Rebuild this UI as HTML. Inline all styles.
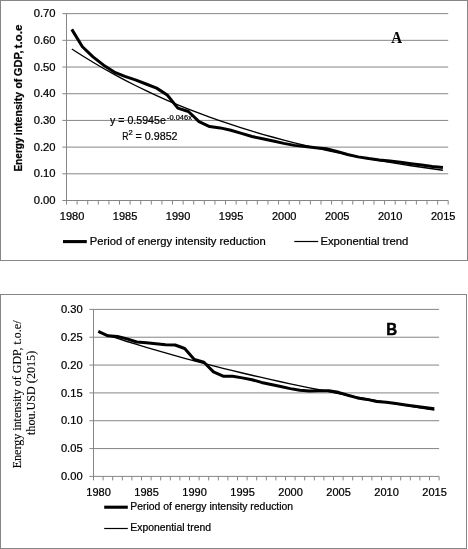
<!DOCTYPE html>
<html><head><meta charset="utf-8"><title>Energy intensity of GDP</title>
<style>html,body{margin:0;padding:0;background:#fff}svg{display:block}text{font-family:"Liberation Sans",sans-serif;fill:#000;stroke:#000;stroke-width:.22px}.s{font-family:"Liberation Serif",serif;stroke-width:.1px}</style></head><body>
<svg width="468" height="549" viewBox="0 0 468 549">
<rect width="468" height="549" fill="#fff"/>
<g>
<rect x="0.5" y="0.5" width="467" height="260" fill="#fff" stroke="#868686" stroke-width="1"/>
<line x1="62.4" y1="200.50" x2="448.20" y2="200.50" stroke="#868686" stroke-width="1"/>
<line x1="62.4" y1="173.81" x2="448.20" y2="173.81" stroke="#868686" stroke-width="1"/>
<line x1="62.4" y1="147.11" x2="448.20" y2="147.11" stroke="#868686" stroke-width="1"/>
<line x1="62.4" y1="120.42" x2="448.20" y2="120.42" stroke="#868686" stroke-width="1"/>
<line x1="62.4" y1="93.73" x2="448.20" y2="93.73" stroke="#868686" stroke-width="1"/>
<line x1="62.4" y1="67.04" x2="448.20" y2="67.04" stroke="#868686" stroke-width="1"/>
<line x1="62.4" y1="40.34" x2="448.20" y2="40.34" stroke="#868686" stroke-width="1"/>
<line x1="62.4" y1="13.65" x2="448.20" y2="13.65" stroke="#868686" stroke-width="1"/>
<line x1="66.5" y1="13.65" x2="66.5" y2="204.6" stroke="#868686" stroke-width="1"/>
<line x1="77.10" y1="200.5" x2="77.10" y2="204.6" stroke="#868686" stroke-width="1"/>
<line x1="87.71" y1="200.5" x2="87.71" y2="204.6" stroke="#868686" stroke-width="1"/>
<line x1="98.31" y1="200.5" x2="98.31" y2="204.6" stroke="#868686" stroke-width="1"/>
<line x1="108.91" y1="200.5" x2="108.91" y2="204.6" stroke="#868686" stroke-width="1"/>
<line x1="119.51" y1="200.5" x2="119.51" y2="204.6" stroke="#868686" stroke-width="1"/>
<line x1="130.12" y1="200.5" x2="130.12" y2="204.6" stroke="#868686" stroke-width="1"/>
<line x1="140.72" y1="200.5" x2="140.72" y2="204.6" stroke="#868686" stroke-width="1"/>
<line x1="151.32" y1="200.5" x2="151.32" y2="204.6" stroke="#868686" stroke-width="1"/>
<line x1="161.93" y1="200.5" x2="161.93" y2="204.6" stroke="#868686" stroke-width="1"/>
<line x1="172.53" y1="200.5" x2="172.53" y2="204.6" stroke="#868686" stroke-width="1"/>
<line x1="183.13" y1="200.5" x2="183.13" y2="204.6" stroke="#868686" stroke-width="1"/>
<line x1="193.73" y1="200.5" x2="193.73" y2="204.6" stroke="#868686" stroke-width="1"/>
<line x1="204.34" y1="200.5" x2="204.34" y2="204.6" stroke="#868686" stroke-width="1"/>
<line x1="214.94" y1="200.5" x2="214.94" y2="204.6" stroke="#868686" stroke-width="1"/>
<line x1="225.54" y1="200.5" x2="225.54" y2="204.6" stroke="#868686" stroke-width="1"/>
<line x1="236.14" y1="200.5" x2="236.14" y2="204.6" stroke="#868686" stroke-width="1"/>
<line x1="246.75" y1="200.5" x2="246.75" y2="204.6" stroke="#868686" stroke-width="1"/>
<line x1="257.35" y1="200.5" x2="257.35" y2="204.6" stroke="#868686" stroke-width="1"/>
<line x1="267.95" y1="200.5" x2="267.95" y2="204.6" stroke="#868686" stroke-width="1"/>
<line x1="278.56" y1="200.5" x2="278.56" y2="204.6" stroke="#868686" stroke-width="1"/>
<line x1="289.16" y1="200.5" x2="289.16" y2="204.6" stroke="#868686" stroke-width="1"/>
<line x1="299.76" y1="200.5" x2="299.76" y2="204.6" stroke="#868686" stroke-width="1"/>
<line x1="310.36" y1="200.5" x2="310.36" y2="204.6" stroke="#868686" stroke-width="1"/>
<line x1="320.97" y1="200.5" x2="320.97" y2="204.6" stroke="#868686" stroke-width="1"/>
<line x1="331.57" y1="200.5" x2="331.57" y2="204.6" stroke="#868686" stroke-width="1"/>
<line x1="342.17" y1="200.5" x2="342.17" y2="204.6" stroke="#868686" stroke-width="1"/>
<line x1="352.77" y1="200.5" x2="352.77" y2="204.6" stroke="#868686" stroke-width="1"/>
<line x1="363.38" y1="200.5" x2="363.38" y2="204.6" stroke="#868686" stroke-width="1"/>
<line x1="373.98" y1="200.5" x2="373.98" y2="204.6" stroke="#868686" stroke-width="1"/>
<line x1="384.58" y1="200.5" x2="384.58" y2="204.6" stroke="#868686" stroke-width="1"/>
<line x1="395.19" y1="200.5" x2="395.19" y2="204.6" stroke="#868686" stroke-width="1"/>
<line x1="405.79" y1="200.5" x2="405.79" y2="204.6" stroke="#868686" stroke-width="1"/>
<line x1="416.39" y1="200.5" x2="416.39" y2="204.6" stroke="#868686" stroke-width="1"/>
<line x1="426.99" y1="200.5" x2="426.99" y2="204.6" stroke="#868686" stroke-width="1"/>
<line x1="437.60" y1="200.5" x2="437.60" y2="204.6" stroke="#868686" stroke-width="1"/>
<line x1="448.20" y1="200.5" x2="448.20" y2="204.6" stroke="#868686" stroke-width="1"/>
<text x="55.60" y="204.00" font-size="10.1" text-anchor="end" textLength="21.90" lengthAdjust="spacingAndGlyphs">0.00</text>
<text x="55.60" y="177.31" font-size="10.1" text-anchor="end" textLength="21.90" lengthAdjust="spacingAndGlyphs">0.10</text>
<text x="55.60" y="150.61" font-size="10.1" text-anchor="end" textLength="21.90" lengthAdjust="spacingAndGlyphs">0.20</text>
<text x="55.60" y="123.92" font-size="10.1" text-anchor="end" textLength="21.90" lengthAdjust="spacingAndGlyphs">0.30</text>
<text x="55.60" y="97.23" font-size="10.1" text-anchor="end" textLength="21.90" lengthAdjust="spacingAndGlyphs">0.40</text>
<text x="55.60" y="70.54" font-size="10.1" text-anchor="end" textLength="21.90" lengthAdjust="spacingAndGlyphs">0.50</text>
<text x="55.60" y="43.84" font-size="10.1" text-anchor="end" textLength="21.90" lengthAdjust="spacingAndGlyphs">0.60</text>
<text x="55.60" y="17.15" font-size="10.1" text-anchor="end" textLength="21.90" lengthAdjust="spacingAndGlyphs">0.70</text>
<text x="72.10" y="219.80" font-size="10.0" text-anchor="middle" textLength="24.50" lengthAdjust="spacingAndGlyphs">1980</text>
<text x="125.12" y="219.80" font-size="10.0" text-anchor="middle" textLength="24.50" lengthAdjust="spacingAndGlyphs">1985</text>
<text x="178.13" y="219.80" font-size="10.0" text-anchor="middle" textLength="24.50" lengthAdjust="spacingAndGlyphs">1990</text>
<text x="231.14" y="219.80" font-size="10.0" text-anchor="middle" textLength="24.50" lengthAdjust="spacingAndGlyphs">1995</text>
<text x="284.16" y="219.80" font-size="10.0" text-anchor="middle" textLength="24.50" lengthAdjust="spacingAndGlyphs">2000</text>
<text x="337.17" y="219.80" font-size="10.0" text-anchor="middle" textLength="24.50" lengthAdjust="spacingAndGlyphs">2005</text>
<text x="390.18" y="219.80" font-size="10.0" text-anchor="middle" textLength="24.50" lengthAdjust="spacingAndGlyphs">2010</text>
<text x="443.20" y="219.80" font-size="10.0" text-anchor="middle" textLength="24.50" lengthAdjust="spacingAndGlyphs">2015</text>
<text x="21.60" y="171.60" font-size="10.6" textLength="34.20" lengthAdjust="spacingAndGlyphs" font-weight="bold" transform="rotate(-90 21.60 171.60)">Energy</text>
<text x="21.60" y="135.30" font-size="10.6" textLength="43.40" lengthAdjust="spacingAndGlyphs" font-weight="bold" transform="rotate(-90 21.60 135.30)">intensity</text>
<text x="21.60" y="88.50" font-size="10.6" textLength="9.70" lengthAdjust="spacingAndGlyphs" font-weight="bold" transform="rotate(-90 21.60 88.50)">of</text>
<text x="21.60" y="76.20" font-size="10.6" textLength="25.80" lengthAdjust="spacingAndGlyphs" font-weight="bold" transform="rotate(-90 21.60 76.20)">GDP,</text>
<text x="21.60" y="48.50" font-size="10.6" textLength="24.00" lengthAdjust="spacingAndGlyphs" font-weight="bold" transform="rotate(-90 21.60 48.50)">t.o.e</text>
<polyline points="71.80,48.95 82.40,55.76 93.01,62.27 103.61,68.48 114.21,74.42 124.82,80.08 135.42,85.50 146.02,90.67 156.62,95.61 167.23,100.32 177.83,104.83 188.43,109.13 199.03,113.24 209.64,117.16 220.24,120.91 230.84,124.48 241.45,127.90 252.05,131.17 262.65,134.28 273.25,137.26 283.86,140.10 294.46,142.82 305.06,145.41 315.67,147.89 326.27,150.25 336.87,152.51 347.47,154.67 358.08,156.73 368.68,158.70 379.28,160.58 389.88,162.37 400.49,164.09 411.09,165.72 421.69,167.29 432.30,168.78 442.90,170.21" fill="none" stroke="#000" stroke-width="1.35" stroke-linejoin="round"/>
<polyline points="71.80,29.40 82.40,46.75 93.01,56.89 103.61,65.17 114.21,72.11 124.82,76.38 135.42,79.85 146.02,83.99 156.62,88.12 167.23,95.06 177.83,108.14 188.43,111.48 199.03,121.62 209.64,126.56 220.24,127.90 230.84,130.30 241.45,133.37 252.05,136.54 262.65,138.84 273.25,140.97 283.86,143.38 294.46,145.38 305.06,146.58 315.67,147.65 326.27,148.72 336.87,151.39 347.47,154.45 358.08,156.86 368.68,158.59 379.28,159.93 389.88,160.99 400.49,162.33 411.09,163.66 421.69,165.00 432.30,166.47 442.90,167.40" fill="none" stroke="#000" stroke-width="3" stroke-linejoin="round" stroke-linecap="butt"/>
<text x="110.00" y="124.20" font-size="10.8" textLength="55.80" lengthAdjust="spacingAndGlyphs">y = 0.5945e</text>
<text x="166.90" y="120.30" font-size="7.2" textLength="25.00" lengthAdjust="spacingAndGlyphs">-0.046x</text>
<text x="122.20" y="139.60" font-size="10.8" textLength="6.20" lengthAdjust="spacingAndGlyphs">R</text>
<text x="128.60" y="135.40" font-size="7.2" textLength="4.20" lengthAdjust="spacingAndGlyphs">2</text>
<text x="135.60" y="139.60" font-size="10.8" textLength="42.00" lengthAdjust="spacingAndGlyphs">= 0.9852</text>
<text x="391.20" y="43.10" font-size="16" textLength="10.80" lengthAdjust="spacingAndGlyphs" class="s" font-weight="bold">A</text>
<line x1="63.0" y1="241.6" x2="86.8" y2="241.6" stroke="#000" stroke-width="3.1"/>
<text x="89.80" y="245.10" font-size="10.6" textLength="176.00" lengthAdjust="spacingAndGlyphs">Period of energy intensity reduction</text>
<line x1="294.3" y1="241.5" x2="318.2" y2="241.5" stroke="#000" stroke-width="1.2"/>
<text x="320.40" y="245.10" font-size="10.6" textLength="88.00" lengthAdjust="spacingAndGlyphs">Exponential trend</text>
</g>
<g>
<rect x="0.5" y="294.5" width="466" height="254" fill="#fff" stroke="#868686" stroke-width="1"/>
<line x1="89.4" y1="476.40" x2="439.10" y2="476.40" stroke="#868686" stroke-width="1"/>
<line x1="89.4" y1="448.57" x2="439.10" y2="448.57" stroke="#868686" stroke-width="1"/>
<line x1="89.4" y1="420.73" x2="439.10" y2="420.73" stroke="#868686" stroke-width="1"/>
<line x1="89.4" y1="392.90" x2="439.10" y2="392.90" stroke="#868686" stroke-width="1"/>
<line x1="89.4" y1="365.07" x2="439.10" y2="365.07" stroke="#868686" stroke-width="1"/>
<line x1="89.4" y1="337.23" x2="439.10" y2="337.23" stroke="#868686" stroke-width="1"/>
<line x1="89.4" y1="309.40" x2="439.10" y2="309.40" stroke="#868686" stroke-width="1"/>
<line x1="93.5" y1="309.4" x2="93.5" y2="480.4" stroke="#868686" stroke-width="1"/>
<line x1="103.10" y1="476.4" x2="103.10" y2="480.4" stroke="#868686" stroke-width="1"/>
<line x1="112.70" y1="476.4" x2="112.70" y2="480.4" stroke="#868686" stroke-width="1"/>
<line x1="122.30" y1="476.4" x2="122.30" y2="480.4" stroke="#868686" stroke-width="1"/>
<line x1="131.90" y1="476.4" x2="131.90" y2="480.4" stroke="#868686" stroke-width="1"/>
<line x1="141.50" y1="476.4" x2="141.50" y2="480.4" stroke="#868686" stroke-width="1"/>
<line x1="151.10" y1="476.4" x2="151.10" y2="480.4" stroke="#868686" stroke-width="1"/>
<line x1="160.70" y1="476.4" x2="160.70" y2="480.4" stroke="#868686" stroke-width="1"/>
<line x1="170.30" y1="476.4" x2="170.30" y2="480.4" stroke="#868686" stroke-width="1"/>
<line x1="179.90" y1="476.4" x2="179.90" y2="480.4" stroke="#868686" stroke-width="1"/>
<line x1="189.50" y1="476.4" x2="189.50" y2="480.4" stroke="#868686" stroke-width="1"/>
<line x1="199.10" y1="476.4" x2="199.10" y2="480.4" stroke="#868686" stroke-width="1"/>
<line x1="208.70" y1="476.4" x2="208.70" y2="480.4" stroke="#868686" stroke-width="1"/>
<line x1="218.30" y1="476.4" x2="218.30" y2="480.4" stroke="#868686" stroke-width="1"/>
<line x1="227.90" y1="476.4" x2="227.90" y2="480.4" stroke="#868686" stroke-width="1"/>
<line x1="237.50" y1="476.4" x2="237.50" y2="480.4" stroke="#868686" stroke-width="1"/>
<line x1="247.10" y1="476.4" x2="247.10" y2="480.4" stroke="#868686" stroke-width="1"/>
<line x1="256.70" y1="476.4" x2="256.70" y2="480.4" stroke="#868686" stroke-width="1"/>
<line x1="266.30" y1="476.4" x2="266.30" y2="480.4" stroke="#868686" stroke-width="1"/>
<line x1="275.90" y1="476.4" x2="275.90" y2="480.4" stroke="#868686" stroke-width="1"/>
<line x1="285.50" y1="476.4" x2="285.50" y2="480.4" stroke="#868686" stroke-width="1"/>
<line x1="295.10" y1="476.4" x2="295.10" y2="480.4" stroke="#868686" stroke-width="1"/>
<line x1="304.70" y1="476.4" x2="304.70" y2="480.4" stroke="#868686" stroke-width="1"/>
<line x1="314.30" y1="476.4" x2="314.30" y2="480.4" stroke="#868686" stroke-width="1"/>
<line x1="323.90" y1="476.4" x2="323.90" y2="480.4" stroke="#868686" stroke-width="1"/>
<line x1="333.50" y1="476.4" x2="333.50" y2="480.4" stroke="#868686" stroke-width="1"/>
<line x1="343.10" y1="476.4" x2="343.10" y2="480.4" stroke="#868686" stroke-width="1"/>
<line x1="352.70" y1="476.4" x2="352.70" y2="480.4" stroke="#868686" stroke-width="1"/>
<line x1="362.30" y1="476.4" x2="362.30" y2="480.4" stroke="#868686" stroke-width="1"/>
<line x1="371.90" y1="476.4" x2="371.90" y2="480.4" stroke="#868686" stroke-width="1"/>
<line x1="381.50" y1="476.4" x2="381.50" y2="480.4" stroke="#868686" stroke-width="1"/>
<line x1="391.10" y1="476.4" x2="391.10" y2="480.4" stroke="#868686" stroke-width="1"/>
<line x1="400.70" y1="476.4" x2="400.70" y2="480.4" stroke="#868686" stroke-width="1"/>
<line x1="410.30" y1="476.4" x2="410.30" y2="480.4" stroke="#868686" stroke-width="1"/>
<line x1="419.90" y1="476.4" x2="419.90" y2="480.4" stroke="#868686" stroke-width="1"/>
<line x1="429.50" y1="476.4" x2="429.50" y2="480.4" stroke="#868686" stroke-width="1"/>
<line x1="439.10" y1="476.4" x2="439.10" y2="480.4" stroke="#868686" stroke-width="1"/>
<text x="82.60" y="480.00" font-size="10.1" text-anchor="end" textLength="21.70" lengthAdjust="spacingAndGlyphs">0.00</text>
<text x="82.60" y="452.17" font-size="10.1" text-anchor="end" textLength="21.70" lengthAdjust="spacingAndGlyphs">0.05</text>
<text x="82.60" y="424.33" font-size="10.1" text-anchor="end" textLength="21.70" lengthAdjust="spacingAndGlyphs">0.10</text>
<text x="82.60" y="396.50" font-size="10.1" text-anchor="end" textLength="21.70" lengthAdjust="spacingAndGlyphs">0.15</text>
<text x="82.60" y="368.67" font-size="10.1" text-anchor="end" textLength="21.70" lengthAdjust="spacingAndGlyphs">0.20</text>
<text x="82.60" y="340.83" font-size="10.1" text-anchor="end" textLength="21.70" lengthAdjust="spacingAndGlyphs">0.25</text>
<text x="82.60" y="313.00" font-size="10.1" text-anchor="end" textLength="21.70" lengthAdjust="spacingAndGlyphs">0.30</text>
<text x="98.60" y="495.70" font-size="10.0" text-anchor="middle" textLength="24.50" lengthAdjust="spacingAndGlyphs">1980</text>
<text x="146.60" y="495.70" font-size="10.0" text-anchor="middle" textLength="24.50" lengthAdjust="spacingAndGlyphs">1985</text>
<text x="194.60" y="495.70" font-size="10.0" text-anchor="middle" textLength="24.50" lengthAdjust="spacingAndGlyphs">1990</text>
<text x="242.60" y="495.70" font-size="10.0" text-anchor="middle" textLength="24.50" lengthAdjust="spacingAndGlyphs">1995</text>
<text x="290.60" y="495.70" font-size="10.0" text-anchor="middle" textLength="24.50" lengthAdjust="spacingAndGlyphs">2000</text>
<text x="338.60" y="495.70" font-size="10.0" text-anchor="middle" textLength="24.50" lengthAdjust="spacingAndGlyphs">2005</text>
<text x="386.60" y="495.70" font-size="10.0" text-anchor="middle" textLength="24.50" lengthAdjust="spacingAndGlyphs">2010</text>
<text x="434.60" y="495.70" font-size="10.0" text-anchor="middle" textLength="24.50" lengthAdjust="spacingAndGlyphs">2015</text>
<text x="21.00" y="468.25" font-size="12" textLength="147.75" lengthAdjust="spacingAndGlyphs" class="s" transform="rotate(-90 21.00 468.25)">Energy intensity of GDP, t.o.e/</text>
<text x="35.00" y="435.00" font-size="12" textLength="84.20" lengthAdjust="spacingAndGlyphs" class="s" transform="rotate(-90 35.00 435.00)">thou.USD (2015)</text>
<polyline points="98.30,332.22 107.90,335.38 117.50,338.47 127.10,341.49 136.70,344.45 146.30,347.34 155.90,350.17 165.50,352.93 175.10,355.64 184.70,358.28 194.30,360.87 203.90,363.40 213.50,365.88 223.10,368.30 232.70,370.66 242.30,372.98 251.90,375.25 261.50,377.46 271.10,379.63 280.70,381.75 290.30,383.82 299.90,385.85 309.50,387.83 319.10,389.77 328.70,391.67 338.30,393.53 347.90,395.34 357.50,397.12 367.10,398.86 376.70,400.56 386.30,402.22 395.90,403.84 405.50,405.43 415.10,406.99 424.70,408.51 434.30,409.99" fill="none" stroke="#000" stroke-width="1.35" stroke-linejoin="round"/>
<polyline points="98.30,331.39 107.90,335.84 117.50,336.57 127.10,338.90 136.70,342.02 146.30,342.80 155.90,343.75 165.50,344.75 175.10,345.03 184.70,348.53 194.30,359.50 203.90,362.28 213.50,371.91 223.10,376.20 232.70,376.20 242.30,377.87 251.90,379.71 261.50,382.43 271.10,384.55 280.70,386.55 290.30,388.61 299.90,390.28 309.50,391.01 319.10,390.67 328.70,390.67 338.30,392.34 347.90,395.29 357.50,397.91 367.10,399.41 376.70,401.53 386.30,402.20 395.90,403.48 405.50,404.92 415.10,406.26 424.70,407.48 434.30,408.76" fill="none" stroke="#000" stroke-width="3" stroke-linejoin="round"/>
<text x="386.30" y="334.90" font-size="16.2" textLength="10.90" lengthAdjust="spacingAndGlyphs" font-weight="bold" style="stroke-width:.5px">B</text>
<line x1="104.2" y1="507.2" x2="127.8" y2="507.2" stroke="#000" stroke-width="3.1"/>
<text x="130.30" y="510.30" font-size="10.0" textLength="162.80" lengthAdjust="spacingAndGlyphs">Period of energy intensity reduction</text>
<line x1="104.2" y1="528.5" x2="127.8" y2="528.5" stroke="#000" stroke-width="1.2"/>
<text x="130.30" y="531.30" font-size="10.0" textLength="80.70" lengthAdjust="spacingAndGlyphs">Exponential trend</text>
</g>
</svg></body></html>
